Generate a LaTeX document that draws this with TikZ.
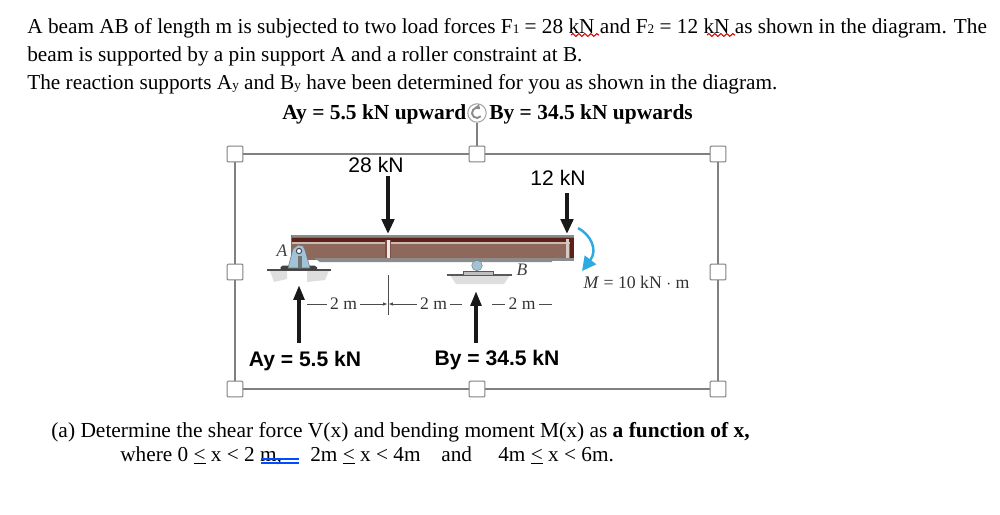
\documentclass[tikz,border=0pt]{standalone}
\usepackage{fontspec}
\setmainfont{Liberation Serif}
\newfontfamily\labelfont{Liberation Sans}
\usetikzlibrary{arrows.meta,decorations.pathmorphing}
\newcommand{\lowidx}[1]{{\fontsize{7.5pt}{9pt}\selectfont #1}}
\definecolor{beamfill}{RGB}{142,104,90}
\definecolor{beamdark}{RGB}{92,34,26}
\definecolor{pinblue}{RGB}{160,195,215}
\definecolor{momentblue}{RGB}{45,170,225}
\begin{document}
\begin{tikzpicture}[x=0.2mm,y=-0.2mm,
    line/.style={anchor=base west,inner sep=0pt,font=\fontsize{12.1pt}{14pt}\selectfont},
    wideline/.style={line,font=\fontsize{12.2pt}{14pt}\selectfont},
    boldline/.style={line,font=\fontsize{12.2pt}{14pt}\selectfont\bfseries},
    wavy/.style={red!85!black,line width=0.6pt,decorate,decoration={snake,amplitude=0.8pt,segment length=3.4pt}},
    handle/.style={draw=black!50,fill=white,rounded corners=0.6pt,line width=0.6pt,minimum size=9pt,inner sep=0pt},
    frameline/.style={draw=black!50,line width=0.8pt},
    force/.style={-{Triangle[length=8.5pt,width=7pt]},line width=2.3pt,black!90},
    reaction/.style={-{Triangle[length=8.5pt,width=6pt]},line width=2.3pt,black!90},
    kn/.style={inner sep=0pt,font=\labelfont\fontsize{12pt}{14pt}\selectfont},
    knbold/.style={inner sep=0pt,font=\labelfont\bfseries\fontsize{12pt}{14pt}\selectfont},
    dim/.style={inner sep=1.6pt,font=\fontsize{10pt}{12pt}\selectfont,black!80},
    dimline/.style={black!70,line width=0.5pt},
    letter/.style={inner sep=0pt,font=\fontsize{10pt}{12pt}\selectfont\itshape,black!75},
    soil/.style={fill=black!13,draw=none}]
  \useasboundingbox (0,0) rectangle (1000,514);
  % question text
  \node[line] (l1) at (27,33) {A beam AB of length m is subjected to two load forces F\lowidx{1} = 28 kN and F\lowidx{2} = 12 kN as shown in the diagram. The};
  \node[line] (l2) at (27,61) {beam is supported by a pin support A and a roller constraint at B.};
  \node[line] (l3) at (27,89) {The reaction supports A\lowidx{y} and B\lowidx{y} have been determined for you as shown in the diagram.};
  \node[boldline] (l4) at (282,119) {Ay = 5.5 kN upward};
  \node[boldline] (l5) at (489,119) {By = 34.5 kN upwards};
  \node[wideline] (l6) at (51,437) {(a) Determine the shear force V(x) and bending moment M(x) as \textbf{a function of x,}};
  \node[line] (l7) at (120,461) {where 0 \underline{<} x < 2 m,};
  \node[line] (l8) at (310,461) {2m \underline{<} x < 4m};
  \node[line] (l9) at (441,461) {and};
  \node[line] (l10) at (498,461) {4m \underline{<} x < 6m.};
  % spell check marks
  \draw[wavy] (571,35) -- (599,35);
  \draw[wavy] (707,35) -- (735,35);
  \draw[blue!70!cyan,line width=0.7pt] (261,459) -- (299,459) (261,463) -- (299,463);
  % selection frame
  \node[handle] (tl) at (235,154) {};
  \node[handle] (tm) at (477,154) {};
  \node[handle] (tr) at (718,154) {};
  \node[handle] (ml) at (235,272) {};
  \node[handle] (mr) at (718,272) {};
  \node[handle] (bl) at (235,389) {};
  \node[handle] (bm) at (477,389) {};
  \node[handle] (br) at (718,389) {};
  \draw[frameline] (tl) -- (tm) -- (tr) -- (mr) -- (br) -- (bm) -- (bl) -- (ml) -- (tl);
  \node[circle,draw=black!35,fill=white,line width=0.6pt,minimum size=10.5pt,inner sep=0pt] (rot) at (477,113) {};
  \draw[frameline] (rot) -- (tm);
  \draw[black!45,line width=1.1pt,-{Triangle[length=2.5pt,width=3.5pt]}] (480.8,116.2) arc[start angle=40,end angle=310,radius=5];
  % beam
  \fill[beamfill] (291,235) rectangle (574,260);
  \fill[black!45] (291,235) rectangle (574,237);
  \fill[beamdark] (291,237.5) rectangle (574,242);
  \fill[white!55!beamfill] (291,242) rectangle (574,243.5);
  \fill[beamdark] (570,237.5) rectangle (574,258);
  \fill[black!45] (314,258) -- (552,258) -- (552,262) -- (320,262) -- cycle;
  \fill[black!45] (552,258) rectangle (574,260.5);
  \fill[beamdark!80] (385,240) rectangle (391,258);
  \fill[white!85!beamfill] (387,240) rectangle (389.5,258);
  \fill[white!65!beamfill] (565.5,239) rectangle (568.5,258);
  \draw[black!55,line width=0.4pt] (291,235) -- (291,258);
  % pin support
  \fill[soil] (270,271) -- (287,271) -- (287,279) -- (274,282) -- cycle;
  \fill[soil] (307,271) -- (329,271) -- (325,280) -- (307,282) -- cycle;
  \draw[black!70,line width=0.7pt] (267,270) -- (331,270);
  \fill[black!75,rounded corners=1pt] (280,270) -- (281,265.5) -- (316,265.5) -- (318,270) -- cycle;
  \fill[pinblue,draw=black!55,line width=0.3pt] (288,268) -- (293,249) -- (298,245) -- (303,246) -- (305,250) -- (310,268) -- cycle;
  \node[circle,draw=black!70,fill=white,line width=0.6pt,minimum size=3pt,inner sep=0pt] (pin) at (299,251) {};
  \fill[black!55] (298,256) rectangle (302,268);
  \node[letter] (labA) at (282,251) {A};
  % roller support
  \fill[soil] (450,275) -- (510,275) -- (504,284) -- (456,284) -- cycle;
  \draw[black!65,line width=0.7pt] (447,275) -- (512,275);
  \draw[black!65,fill=black!25,line width=0.5pt] (463,275) -- (463,271) -- (493,271) -- (493,275);
  \node[circle,fill=pinblue,draw=black!50,line width=0.3pt,minimum size=6pt,inner sep=0pt] (roller) at (477,265.5) {};
  \node[letter] (labB) at (522,270) {B};
  % forces
  \node[kn] (f1) at (376,165) {28 kN};
  \node[kn] (f2) at (558,178) {12 kN};
  \coordinate (f1top) at (388,176);
  \coordinate (f1tip) at (388,234);
  \coordinate (f2top) at (567,193);
  \coordinate (f2tip) at (567,234);
  \draw[force] (f1top) -- (f1tip);
  \draw[force] (f2top) -- (f2tip);
  \node[knbold] (ay) at (305,361) {Ay = 5.5 kN};
  \node[knbold] (by) at (497,360) {By = 34.5 kN};
  \coordinate (aytail) at (299,343);
  \coordinate (aytip) at (299,285);
  \coordinate (bytail) at (476,343);
  \coordinate (bytip) at (476,291);
  \draw[reaction] (aytail) -- (aytip);
  \draw[reaction] (bytail) -- (bytip);
  % moment
  \node[inner sep=0pt,font=\fontsize{10.1pt}{12pt}\selectfont,black!80] (mom) at (636.5,282) {\textit{M} = 10 kN $\cdot$ m};
  \coordinate (momstart) at (578,228);
  \coordinate (momend) at (582,271);
  \draw[momentblue,line width=1.4pt,-{Triangle[length=8pt,width=8pt]}] (momstart) .. controls (591,235) and (598,250) .. (momend);
  % dimensions
  \node[dim] (d1) at (343.5,304) {2 m};
  \node[dim] (d2) at (433.5,304) {2 m};
  \node[dim] (d3) at (522,304) {2 m};
  \coordinate (tick1) at (388,275);
  \coordinate (tick2) at (388,315);
  \coordinate (midl) at (387.5,304);
  \coordinate (midr) at (388.5,304);
  \draw[dimline] (tick1) -- (tick2);
  \coordinate (dl1) at (307,304);
  \coordinate (dr2) at (462,304);
  \coordinate (dl3) at (492,304);
  \coordinate (dr3) at (552,304);
  \draw[dimline] (dl1) -- (d1);
  \draw[dimline,-{Latex[length=2.5pt,width=2pt]}] (d1) -- (midl);
  \draw[dimline,-{Latex[length=2.5pt,width=2pt]}] (d2) -- (midr);
  \draw[dimline] (d2) -- (dr2);
  \draw[dimline] (dl3) -- (d3);
  \draw[dimline] (d3) -- (dr3);
\end{tikzpicture}
\end{document}
